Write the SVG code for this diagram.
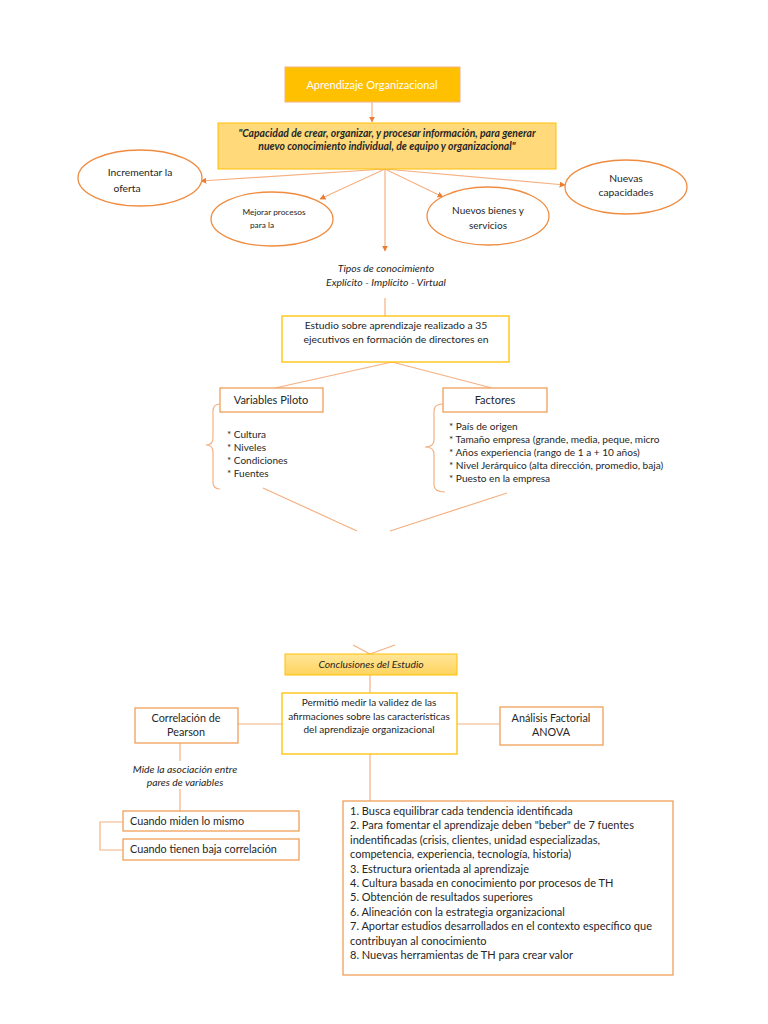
<svg xmlns="http://www.w3.org/2000/svg" width="768" height="1024" viewBox="0 0 768 1024">
<defs>
<style>
text{font-family:Lato,"Liberation Sans",sans-serif;fill:#262626;}
.c{text-anchor:middle;}
.box{fill:#fff;stroke:#F0A05A;stroke-width:1.3;}
.gbox{fill:#fff;stroke:#FFC000;stroke-width:1.3;}
.ell{fill:#fff;stroke:#F08C40;stroke-width:1.3;}
.ln{stroke:#F4B183;stroke-width:1.2;fill:none;}
.it{font-style:italic;}
</style>
<marker id="ah" viewBox="0 0 10 10" refX="9" refY="5" markerWidth="6" markerHeight="6" orient="auto-start-reverse" markerUnits="userSpaceOnUse">
<path d="M0,0 L10,5 L0,10 z" fill="#ED7D31"/>
</marker>
<linearGradient id="gg" x1="0" y1="0" x2="0" y2="1">
<stop offset="0" stop-color="#FFE699"/>
<stop offset="1" stop-color="#FFD45E"/>
</linearGradient>
</defs>
<rect width="768" height="1024" fill="#fff"/>

<g id="connectors">
<line class="ln" x1="372" y1="102" x2="372" y2="122" marker-end="url(#ah)"/>
<line class="ln" x1="385" y1="169" x2="201" y2="181" marker-end="url(#ah)"/>
<line class="ln" x1="385" y1="169" x2="320" y2="199" marker-end="url(#ah)"/>
<line class="ln" x1="385" y1="169" x2="443" y2="197" marker-end="url(#ah)"/>
<line class="ln" x1="385" y1="169" x2="565" y2="185" marker-end="url(#ah)"/>
<line class="ln" x1="385" y1="169" x2="385" y2="251" marker-end="url(#ah)"/>
<line class="ln" x1="385" y1="298" x2="385" y2="316"/>
<line class="ln" x1="392" y1="362" x2="275" y2="388"/>
<line class="ln" x1="392" y1="362" x2="492" y2="388"/>
<path class="ln" d="M220,404 Q213,404 213,411 L213,438 Q213,445 206,445 Q213,445 213,452 L213,482 Q213,489 220,489"/>
<path class="ln" d="M443,404 Q434,404 434,411 L434,440 Q434,447 425,447 Q434,447 434,454 L434,485 Q434,492 445,492"/>
<line class="ln" x1="263" y1="488" x2="357" y2="531"/>
<line class="ln" x1="507" y1="493" x2="390" y2="531"/>
<line class="ln" x1="353" y1="645" x2="370" y2="654"/>
<line class="ln" x1="395" y1="645" x2="370" y2="654"/>
<line class="ln" x1="370" y1="675" x2="370" y2="693"/>
<line class="ln" x1="238" y1="724" x2="282" y2="724"/>
<line class="ln" x1="457" y1="724" x2="500" y2="724"/>
<line class="ln" x1="180" y1="743" x2="180" y2="761"/>
<line class="ln" x1="180" y1="789" x2="180" y2="811"/>
<path class="ln" d="M123,822 L100,822 L100,850 L123,850"/>
<line class="ln" x1="370" y1="754" x2="370" y2="801"/>
</g>

<g id="titulo">
<rect x="285" y="67" width="175" height="35" fill="#FFC000" stroke="#F4B183" stroke-width="1"/>
<text class="c" x="372" y="89" font-size="11" style="fill:#fff">Aprendizaje Organizacional</text>
</g>

<g id="definicion">
<rect x="218" y="123" width="338" height="46" fill="#FFD97A" stroke="#FFC000" stroke-width="1"/>
<text class="c it" x="387" y="137" font-size="10.4" font-weight="bold">"Capacidad de crear, organizar, y procesar información, para generar</text>
<text class="c it" x="387" y="150" font-size="10.4" font-weight="bold">nuevo conocimiento individual, de equipo y organizacional"</text>
</g>

<g id="incrementar">
<ellipse class="ell" cx="140" cy="178" rx="62" ry="28"/>
<text class="c" x="140" y="176" font-size="10.3">Incrementar la</text>
<text class="c" x="127" y="192" font-size="10.3">oferta</text>
</g>

<g id="mejorar">
<ellipse class="ell" cx="272" cy="219" rx="61" ry="27"/>
<text class="c" x="274" y="215" font-size="8.3">Mejorar procesos</text>
<text class="c" x="262" y="228" font-size="8.3">para la</text>
</g>

<g id="nuevos-bienes">
<ellipse class="ell" cx="488" cy="216" rx="61" ry="29"/>
<text class="c" x="488" y="214" font-size="10">Nuevos bienes y</text>
<text class="c" x="488" y="229" font-size="10">servicios</text>
</g>

<g id="nuevas-capacidades">
<ellipse class="ell" cx="626" cy="187" rx="61" ry="27"/>
<text class="c" x="626" y="182" font-size="10.3">Nuevas</text>
<text class="c" x="626" y="196" font-size="10.3">capacidades</text>
</g>

<g id="tipos">
<text class="c it" x="386" y="272" font-size="10.4">Tipos de conocimiento</text>
<text class="c it" x="386" y="286" font-size="10.4">Explícito - Implícito - Virtual</text>
</g>

<g id="estudio">
<rect class="gbox" x="282" y="316" width="227" height="46"/>
<text class="c" x="396" y="329" font-size="10.4">Estudio sobre aprendizaje realizado a 35</text>
<text class="c" x="396" y="343" font-size="10.4">ejecutivos en formación de directores en</text>
</g>

<g id="variables-piloto">
<rect class="box" x="220" y="388" width="103" height="24"/>
<text class="c" x="271" y="404" font-size="11">Variables Piloto</text>
<text x="227" y="438" font-size="10">* Cultura</text>
<text x="227" y="451" font-size="10">* Niveles</text>
<text x="227" y="464" font-size="10">* Condiciones</text>
<text x="227" y="477" font-size="10">* Fuentes</text>
</g>

<g id="factores">
<rect class="box" x="443" y="388" width="104" height="24"/>
<text class="c" x="495" y="404" font-size="11">Factores</text>
<text x="449" y="430" font-size="10.1">* País de origen</text>
<text x="449" y="443" font-size="10.1">* Tamaño empresa (grande, media, peque, micro</text>
<text x="449" y="456" font-size="10.1">* Años experiencia (rango de 1 a + 10 años)</text>
<text x="449" y="469" font-size="10.1">* Nivel Jerárquico (alta dirección, promedio, baja)</text>
<text x="449" y="482" font-size="10.1">* Puesto en la empresa</text>
</g>

<g id="conclusiones">
<rect x="285" y="654" width="172" height="21" fill="url(#gg)" stroke="#FFC000" stroke-width="1"/>
<text class="c it" x="371" y="668" font-size="10.3">Conclusiones del Estudio</text>
</g>

<g id="permitio">
<rect class="gbox" x="282" y="693" width="175" height="61"/>
<text class="c" x="369" y="706" font-size="10">Permitió medir la validez de las</text>
<text class="c" x="369" y="720" font-size="10">afirmaciones sobre las características</text>
<text class="c" x="369" y="733" font-size="10">del aprendizaje organizacional</text>
</g>

<g id="correlacion">
<rect class="box" x="135" y="708" width="103" height="35"/>
<text class="c" x="186" y="722" font-size="10.8">Correlación de</text>
<text class="c" x="186" y="736" font-size="10.8">Pearson</text>
</g>

<g id="analisis">
<rect class="box" x="500" y="707" width="103" height="38"/>
<text class="c" x="551" y="722" font-size="10.8">Análisis Factorial</text>
<text class="c" x="551" y="736" font-size="10.8">ANOVA</text>
</g>

<g id="mide">
<text class="c it" x="185" y="773" font-size="10.4">Mide la asociación entre</text>
<text class="c it" x="185" y="786" font-size="10.4">pares de variables</text>
</g>

<g id="cuando-miden">
<rect class="box" x="123" y="811" width="176" height="20"/>
<text x="130" y="825" font-size="10.8">Cuando miden lo mismo</text>
</g>

<g id="cuando-tienen">
<rect class="box" x="123" y="839" width="176" height="21"/>
<text x="130" y="853" font-size="10.8">Cuando tienen baja correlación</text>
</g>

<g id="lista">
<rect class="box" x="343" y="801" width="330" height="174"/>
<text x="350" y="815" font-size="11">1. Busca equilibrar cada tendencia identificada</text>
<text x="350" y="829.4" font-size="11">2. Para fomentar el aprendizaje deben "beber" de 7 fuentes</text>
<text x="350" y="843.8" font-size="11">indentificadas (crisis, clientes, unidad especializadas,</text>
<text x="350" y="858.2" font-size="11">competencia, experiencia, tecnología, historia)</text>
<text x="350" y="872.6" font-size="11">3. Estructura orientada al aprendizaje</text>
<text x="350" y="887" font-size="11">4. Cultura basada en conocimiento por procesos de TH</text>
<text x="350" y="901.4" font-size="11">5. Obtención de resultados superiores</text>
<text x="350" y="915.8" font-size="11">6. Alineación con la estrategia organizacional</text>
<text x="350" y="930.2" font-size="11">7. Aportar estudios desarrollados en el contexto específico que</text>
<text x="350" y="944.6" font-size="11">contribuyan al conocimiento</text>
<text x="350" y="959" font-size="11">8. Nuevas herramientas de TH para crear valor</text>
</g>
</svg>
